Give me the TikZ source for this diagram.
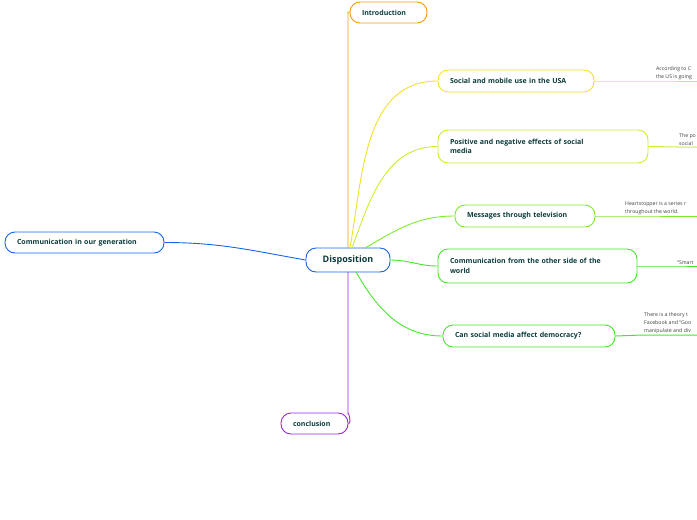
\documentclass[tikz,border=0pt]{standalone}
\usepackage{fontspec}
\setmainfont{Open Sans}
\definecolor{cblue}{HTML}{1565E8}
\definecolor{corange}{HTML}{F79A10}
\definecolor{cyel}{HTML}{F2E02A}
\definecolor{cyg}{HTML}{C8F02A}
\definecolor{cgreen}{HTML}{7DEB2A}
\definecolor{cgreen2}{HTML}{44E82A}
\definecolor{cpurple}{HTML}{9E22E8}
\definecolor{ctext}{HTML}{0B3B3B}
\tikzset{
 topic/.style={draw, rounded corners=10pt, line width=0.9pt, fill=white, text=ctext, font=\bfseries\fontsize{7}{9.5}\selectfont, align=left, inner xsep=12pt},
 note/.style={font=\fontsize{5.2}{8}\selectfont, text=black!75, align=left, anchor=south west, inner sep=1pt},
 br/.style={line width=0.9pt}
}
\begin{document}
\begin{tikzpicture}[x=1pt,y=-1pt]
\useasboundingbox (0,0) rectangle (697,520);
\clip (0,0) rectangle (697,520);
\node[topic, draw=cblue, minimum width=84pt, minimum height=24pt, font=\bfseries\fontsize{9}{11}\selectfont, align=center] (d) at (348,260) {Disposition};
\node[topic, draw=corange, minimum width=77pt, minimum height=21pt, text width=53pt] (intro) at (388.5,12.5) {Introduction};
\node[topic, draw=cyel, minimum width=156pt, minimum height=22pt, text width=132pt] (soc) at (516,81) {Social and mobile use in the USA};
\node[topic, draw=cyg, minimum width=210pt, minimum height=33pt, text width=186pt] (pos) at (543,146.5) {Positive and negative effects of social\\media};
\node[topic, draw=cgreen, minimum width=140pt, minimum height=22pt, text width=116pt] (msg) at (525,216) {Messages through television};
\node[topic, draw=cgreen2, minimum width=199pt, minimum height=34pt, text width=175pt] (oth) at (537.5,266) {Communication from the other side of the\\world};
\node[topic, draw=cgreen2, minimum width=172pt, minimum height=22pt, text width=148pt] (dem) at (529,336) {Can social media affect democracy?};
\node[topic, draw=cblue, minimum width=159pt, minimum height=21pt, text width=135pt] (gen) at (84.5,242.5) {Communication in our generation};
\node[topic, draw=cpurple, minimum width=67pt, minimum height=21pt, text width=43pt] (con) at (314.5,423.5) {conclusion};

\draw[br, corange] (348,248) -- (348,12) to[out=-90,in=180] (intro.west);
\draw[br, cpurple] (348,272) -- (348,414) to[out=90,in=0] (con.east);
\draw[br, cblue] (d.west) to[out=170,in=0] (gen.east);
\draw[br, cyel] (350,248) to[out=80,in=180] (soc.west);
\draw[br, cyg] (352,248) to[out=70,in=180] (pos.west);
\draw[br, cgreen] (365,248) to[out=30,in=180] (msg.west);
\draw[br, cgreen2] (d.east) to[out=0,in=180] (oth.west);
\draw[br, cgreen2] (356,272) to[out=-60,in=180] (dem.west);

\node[note] (t1) at (655,81) {According to C\\the US is going};
\draw[cyel, line width=1pt] (soc.east) -- (t1.south west) -- (697,81);
\node[note] (t2) at (678,147) {The po\\social};
\draw[cyg, line width=1pt] (pos.east) -- (t2.south west) -- (697,147);
\node[note] (t3) at (624,216) {Heartstopper is a series r\\throughout the world.};
\draw[cgreen, line width=1pt] (msg.east) -- (t3.south west) -- (697,216);
\node[note] (t4) at (676,266) {“Smart};
\draw[cgreen2, line width=1pt] (oth.east) -- (t4.south west) -- (697,266);
\node[note] (t5) at (643,335) {There is a theory t\\Facebook and “Goo\\manipulate and div};
\draw[cgreen2, line width=1pt] (dem.east) -- (t5.south west) -- (697,335);
\end{tikzpicture}
\end{document}
